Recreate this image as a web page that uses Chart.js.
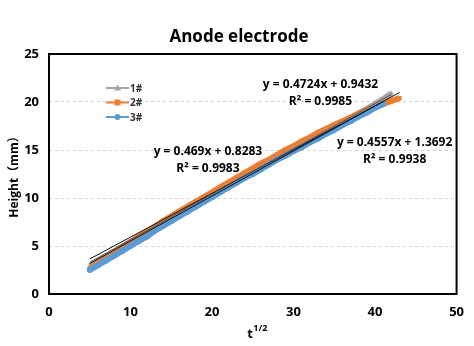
<!DOCTYPE html>
<html>
<head>
<meta charset="utf-8">
<script src="https://cdn.jsdelivr.net/npm/chart.js@4/dist/chart.umd.min.js"></script>
<style>
  html, body { margin: 0; padding: 0; background: #fff; }
</style>
</head>
<body>
<canvas id="anodeChart" width="474" height="346"></canvas>
<script>
// data
var xs1 = [5,6,7,8,9,10,11,12,13,14,15,16,17,18,19,20,21,22,23,24,25,26,27,28,29,30,31,32,33,34,35,36,37,38,39,40,41,42];
var h1 = [2.9,3.4,3.9,4.4,4.9,5.4,5.9,6.4,6.9,7.4,7.9,8.4,8.8,9.3,9.8,10.3,10.8,11.2,11.7,12.2,12.7,13.1,13.6,14.1,14.6,15.0,15.5,16.0,16.4,16.9,17.4,17.8,18.3,18.8,19.3,19.8,20.3,20.9];
var xs2 = [5,6,7,8,9,10,11,12,13,14,15,16,17,18,19,20,21,22,23,24,25,26,27,28,29,30,31,32,33,34,35,36,37,38,39,40,41,42,43];
var h2 = [2.7,3.2,3.8,4.3,4.9,5.4,6.0,6.5,7.0,7.6,8.1,8.6,9.1,9.6,10.1,10.6,11.1,11.6,12.1,12.6,13.1,13.6,14.0,14.5,15.0,15.4,15.9,16.3,16.8,17.2,17.6,18.0,18.4,18.8,19.2,19.5,19.8,20.1,20.4];
var xs3 = [5,6,7,8,9,10,11,12,13,14,15,16,17,18,19,20,21,22,23,24,25,26,27,28,29,30,31,32,33,34,35,36,37,38,39,40,41];
var h3 = [2.5,3.0,3.5,4.0,4.5,5.0,5.5,6.0,6.6,7.1,7.6,8.1,8.6,9.1,9.6,10.1,10.6,11.1,11.6,12.1,12.5,13.0,13.5,14.0,14.4,14.9,15.3,15.8,16.2,16.7,17.1,17.6,18.0,18.5,18.9,19.4,19.8];

var seriesNames = ["1#", "2#", "3#"];
var seriesColors = ["#a5a5a5", "#ed7d31", "#5b9bd5"];
var seriesMarkers = ["triangle", "rect", "circle"];

// trendline equations printed on the chart
var slopes = [0.4724, 0.469, 0.4557];
var intercepts = [0.9432, 0.8283, 1.3692];
var r2 = ["0.9985", "0.9983", "0.9938"];
var trendRange = [[5, 42], [5, 43], [5, 41]];
// where the equation labels sit (data coords, centre of text)
var labelAt = [[33.3, 21.8], [19.5, 14.8], [42.4, 15.8]];

var xTicks = [0, 10, 20, 30, 40, 50];

function pts(xs, ys) {
    return xs.map(function (x, i) { return { x: x, y: ys[i] }; });
}
function trend(k) {
    var a = trendRange[k][0], b = trendRange[k][1];
    return [{ x: a, y: slopes[k] * a + intercepts[k] }, { x: b, y: slopes[k] * b + intercepts[k] }];
}

var FONT = "'Open Sans', 'Noto Sans CJK SC', sans-serif";

var datasets = [];
[[xs1, h1], [xs2, h2], [xs3, h3]].forEach(function (s, k) {
    datasets.push({
        label: seriesNames[k],
        data: pts(s[0], s[1]),
        borderColor: seriesColors[k],
        backgroundColor: seriesColors[k],
        borderWidth: 6,
        pointStyle: seriesMarkers[k],
        pointRadius: 3,
        pointBorderWidth: 0,
        order: 3 - k
    });
});
for (var k = 0; k < 3; k++) {
    datasets.push({
        label: "trend" + k,
        data: trend(k),
        borderColor: k === 0 ? "#555" : "#111",
        borderWidth: 1,
        pointRadius: 0,
        order: 0
    });
}

var decor = {
    id: "decor",
    afterDraw: function (chart) {
        var ctx = chart.ctx, area = chart.chartArea;
        var xs = chart.scales.x, ys = chart.scales.y;
        ctx.save();
        // frame
        ctx.strokeStyle = "#000";
        ctx.lineWidth = 2;
        ctx.strokeRect(area.left, area.top, area.right - area.left, area.bottom - area.top);

        ctx.fillStyle = "#000";
        ctx.textAlign = "center";
        ctx.textBaseline = "middle";
        // title
        ctx.font = "bold 17px " + FONT;
        ctx.fillText("Anode electrode", 239, 37);
        // y title
        ctx.save();
        ctx.translate(15, 174);
        ctx.rotate(-Math.PI / 2);
        ctx.font = "bold 12px " + FONT;
        ctx.fillText("Height（mm）", 0, 0);
        ctx.restore();
        // x title t^(1/2)
        ctx.textAlign = "left";
        ctx.font = "bold 13px " + FONT;
        var tw = ctx.measureText("t").width;
        ctx.font = "bold 9px " + FONT;
        var sw = ctx.measureText("1/2").width;
        var x0 = 257 - (tw + sw) / 2;
        ctx.font = "bold 13px " + FONT;
        ctx.fillText("t", x0, 334);
        ctx.font = "bold 9px " + FONT;
        ctx.fillText("1/2", x0 + tw + 0.5, 328);

        // equations
        ctx.textAlign = "center";
        ctx.font = "bold 12px " + FONT;
        for (var k = 0; k < 3; k++) {
            var px = xs.getPixelForValue(labelAt[k][0]);
            var py = ys.getPixelForValue(labelAt[k][1]);
            ctx.fillText("y = " + slopes[k] + "x + " + intercepts[k], px, py);
            ctx.fillText("R² = " + r2[k], px, py + 17);
        }

        // legend
        ctx.textAlign = "left";
        ctx.font = "bold 10px " + FONT;
        for (var i = 0; i < 3; i++) {
            var ly = 88 + i * 14.5;
            ctx.strokeStyle = seriesColors[i];
            ctx.fillStyle = seriesColors[i];
            ctx.lineWidth = 2;
            ctx.beginPath();
            ctx.moveTo(106, ly);
            ctx.lineTo(129, ly);
            ctx.stroke();
            ctx.beginPath();
            if (seriesMarkers[i] === "triangle") {
                ctx.moveTo(117.5, ly - 3.5);
                ctx.lineTo(121, ly + 2.5);
                ctx.lineTo(114, ly + 2.5);
                ctx.closePath();
                ctx.fill();
            } else if (seriesMarkers[i] === "rect") {
                ctx.fillRect(114.5, ly - 3, 6, 6);
            } else {
                ctx.arc(117.5, ly, 3, 0, Math.PI * 2);
                ctx.fill();
            }
            ctx.fillStyle = "#333";
            ctx.fillText(seriesNames[i], 130, ly + 1);
        }
        ctx.restore();
    }
};

new Chart(document.getElementById("anodeChart").getContext("2d"), {
    type: "line",
    data: { datasets: datasets },
    options: {
        responsive: false,
        animation: false,
        devicePixelRatio: 1,
        layout: { padding: { top: 54, right: 17, left: 0, bottom: 0 } },
        plugins: { legend: { display: false }, tooltip: { enabled: false } },
        scales: {
            x: {
                type: "linear",
                min: 0,
                max: 50,
                afterFit: function (s) { s.height = 52; },
                afterBuildTicks: function (s) { s.ticks = xTicks.map(function (v) { return { value: v }; }); },
                grid: { display: false, drawTicks: false },
                border: { display: false },
                ticks: { padding: 10, color: "#000", font: { family: FONT, size: 13, weight: "bold" } }
            },
            y: {
                min: 0,
                max: 25,
                afterFit: function (s) { s.width = 49; },
                grid: { color: "#d0d0d0", drawTicks: false },
                border: { display: false, dash: [3, 3] },
                ticks: { stepSize: 5, padding: 10, color: "#000", font: { family: FONT, size: 13, weight: "bold" } }
            }
        }
    },
    plugins: [decor]
});
</script>
</body>
</html>
